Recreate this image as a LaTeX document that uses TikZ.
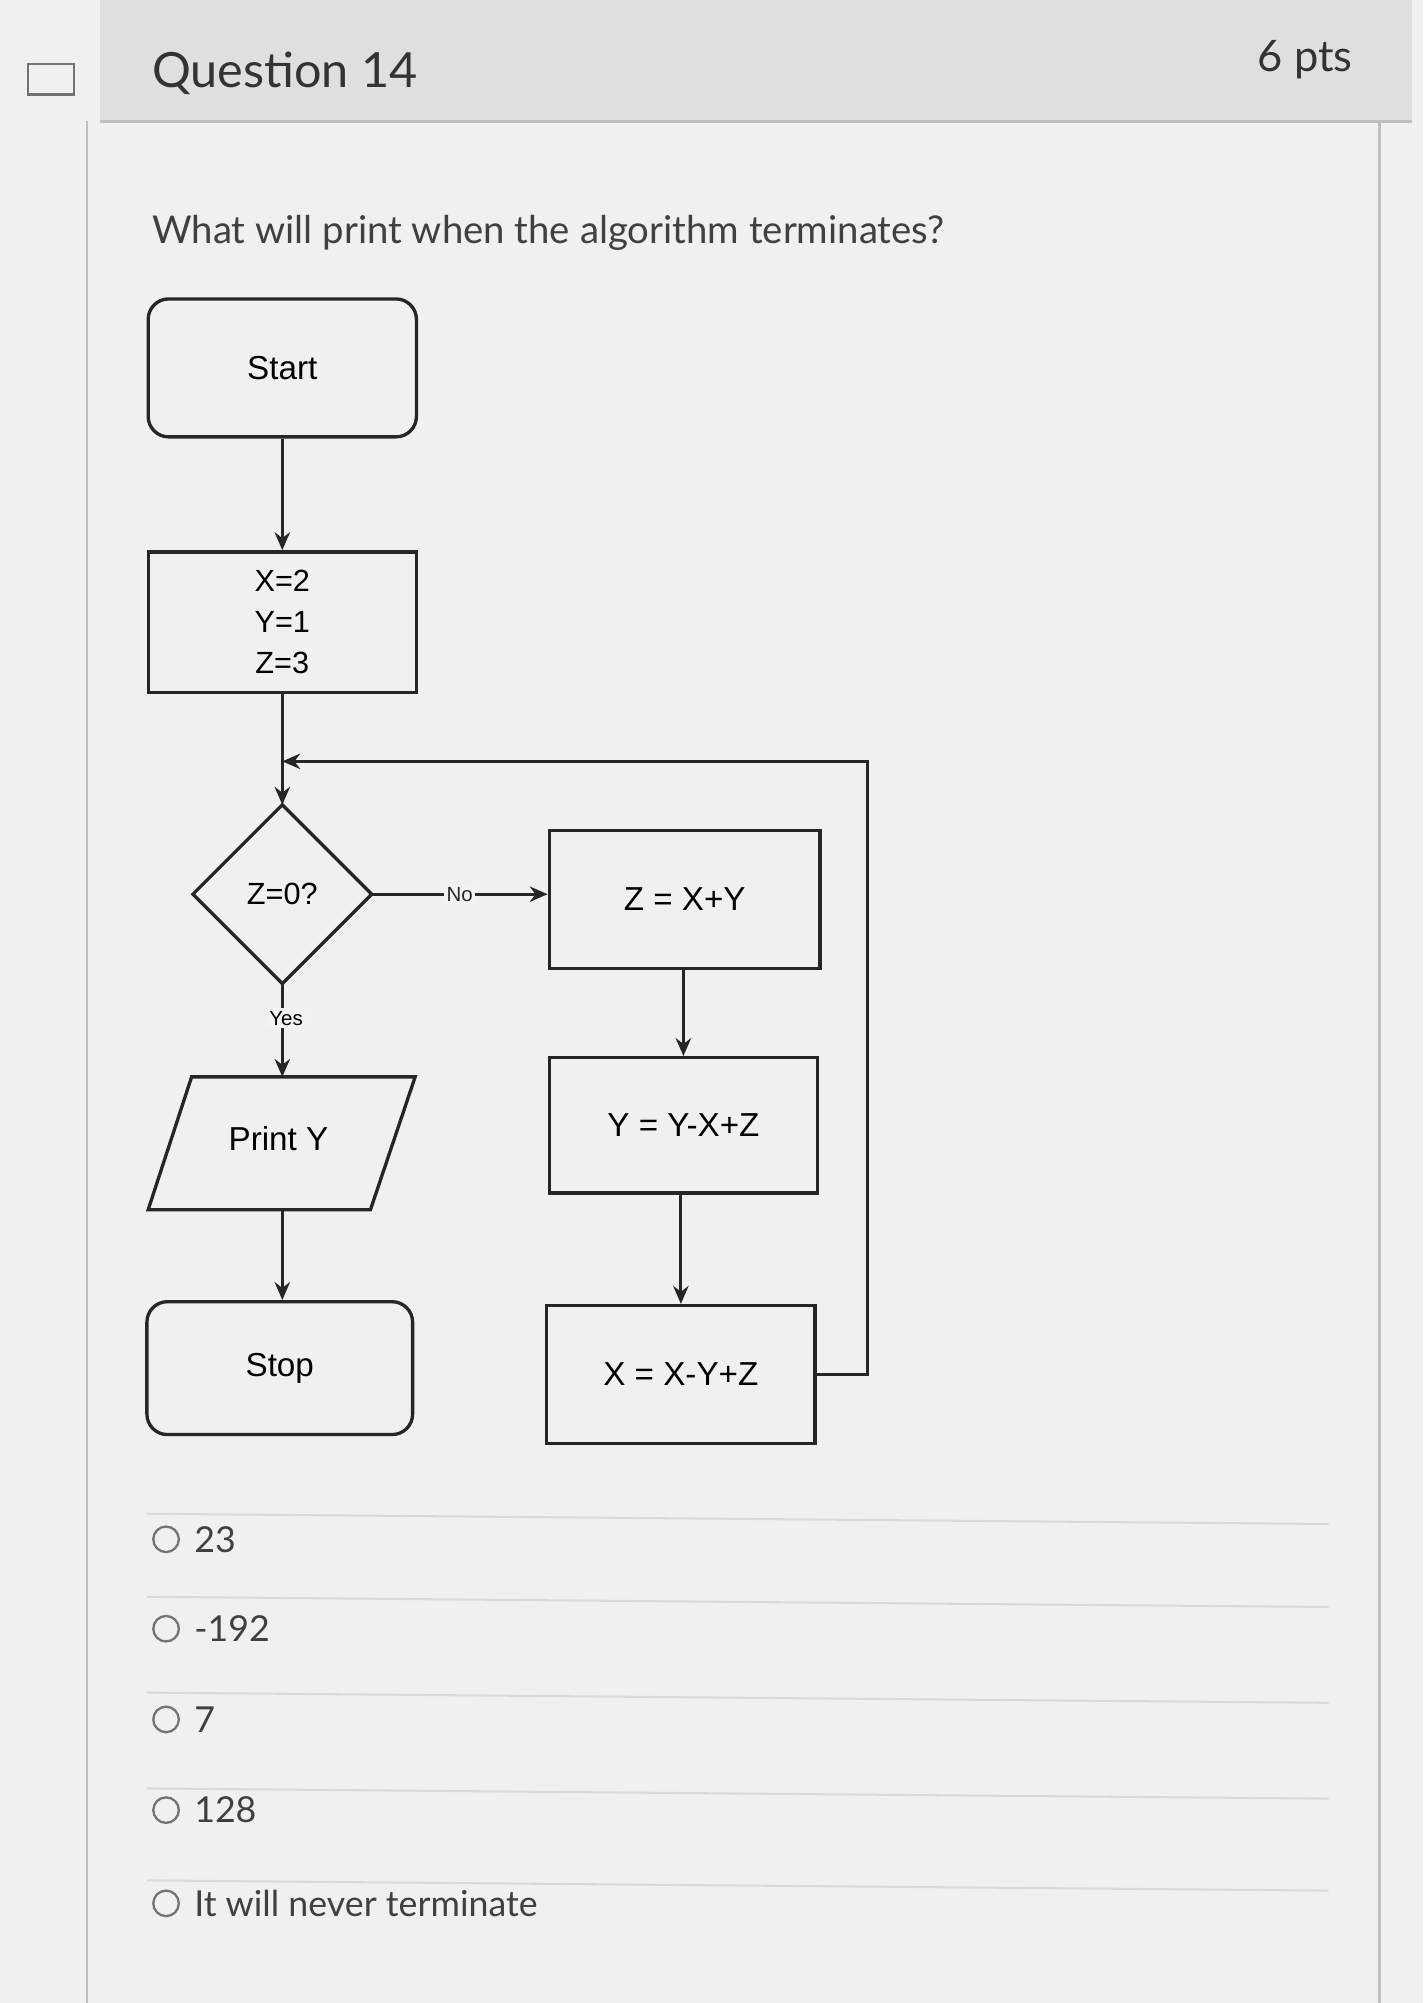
\documentclass[tikz,border=0pt]{standalone}
\usepackage{fontspec}
\setmainfont{Lato}
\newfontfamily\fc{Liberation Sans}
\usetikzlibrary{arrows.meta}
\begin{document}
\begin{tikzpicture}[x=0.5pt,y=-0.5pt,
 box/.style={draw=black!85,line width=1.3pt,font=\fc\fontsize{13}{16}\selectfont,align=center},
 arr/.style={-{Stealth[length=7pt,width=6pt]},line width=1.2pt,black!85},
 lbl/.style={font=\fc\fontsize{8}{9}\selectfont,fill=black!5,inner sep=1pt},
 ans/.style={anchor=west,font=\fontsize{14}{17}\selectfont,text=black!75},
 rad/.style={draw=black!55,line width=0.9pt,circle,minimum size=10pt,inner sep=0pt},
 sep/.style={draw=black!15,line width=0.8pt}]
\fill[gray!12] (0,0) rectangle (1114,1568);
\useasboundingbox (0,0) rectangle (1114,1568);
\fill[gray!25] (78,0) rectangle (1105,95);
\draw[black!25,line width=1pt] (68,95) -- (68,1568) (1080,95) -- (1080,1568) (78,95) -- (1105,95);
\node[draw=black!55,line width=1pt,minimum width=18pt,minimum height=12pt,inner sep=0pt] (icon) at (40,62) {};
\node[anchor=west,font=\fontsize{19}{23}\selectfont,text=black!80] (q) at (112,57) {Question 14};
\node[anchor=east,font=\fontsize{17}{21}\selectfont,text=black!80] (pts) at (1066,47) {6 pts};
\node[anchor=west,font=\fontsize{15}{19}\selectfont,text=black!75] (qt) at (112,182) {What will print when the algorithm terminates?};
% flowchart
\node[box,rounded corners=8pt,minimum width=105pt,minimum height=54pt] (start) at (221,288) {Start};
\node[box,minimum width=105pt,minimum height=55pt,font=\fc\fontsize{12}{16}\selectfont] (init) at (221,487) {X=2\\Y=1\\Z=3};
\coordinate (m) at (221,596);
\draw[line width=1.3pt,black!85] (221,630) -- (291,700) -- (221,770) -- (151,700) -- cycle;
\node[font=\fc\fontsize{12}{14}\selectfont] (dt) at (221,700) {Z=0?};
\coordinate (dtop) at (221,630);
\coordinate (dr) at (291,700);
\coordinate (db) at (221,770);
\node[box,minimum width=106pt,minimum height=54pt] (zb) at (536,704) {Z = X+Y};
\node[box,minimum width=105pt,minimum height=53pt] (yb) at (535,881) {Y = Y-X+Z};
\node[box,minimum width=105pt,minimum height=54pt] (xb) at (533,1076) {X = X-Y+Z};
\draw[line width=1.3pt,black!85] (150,843) -- (325,843) -- (290,947) -- (116,947) -- cycle;
\node[font=\fc\fontsize{13}{16}\selectfont] (pr) at (218,891) {Print Y};
\coordinate (pt) at (221,843);
\coordinate (pb) at (221,947);
\coordinate (ym) at (221,808);
\coordinate (lr) at (679,596);
\node[box,rounded corners=8pt,minimum width=104pt,minimum height=52pt] (stop) at (219,1071) {Stop};
\draw[arr] (start) -- (init);
\draw[line width=1.2pt,black!85] (init) -- (m);
\draw[arr] (m) -- (dtop);
\draw[arr] (dr) -- node[lbl,pos=0.5]{No} (dr -| zb.west);
\draw[line width=1.2pt,black!85] (db) -- (ym);
\node[lbl] (yes) at (224,797) {Yes};
\draw[arr] (ym) -- (pt);
\draw[arr] (pb) -- (pb |- stop.north);
\draw[arr] (zb.south -| yb) -- (yb.north);
\draw[arr] (yb.south -| xb) -- (xb.north);
\draw[arr] (xb.east) -| (lr) -- (m);
% answers
\foreach \y/\t/\n in {1205/23/a1,1275/-192/a2,1346/7/a3,1417/128/a4,1490/It will never terminate/a5}{
  \node[rad] (c\n) at (130,\y) {};
  \node[ans] (\n) at (145,\y) {\t};
}
\foreach \y in {1185,1250,1325,1400,1472}{\draw[sep] (115,\y) -- (1040,\y+8);}
\end{tikzpicture}
\end{document}
